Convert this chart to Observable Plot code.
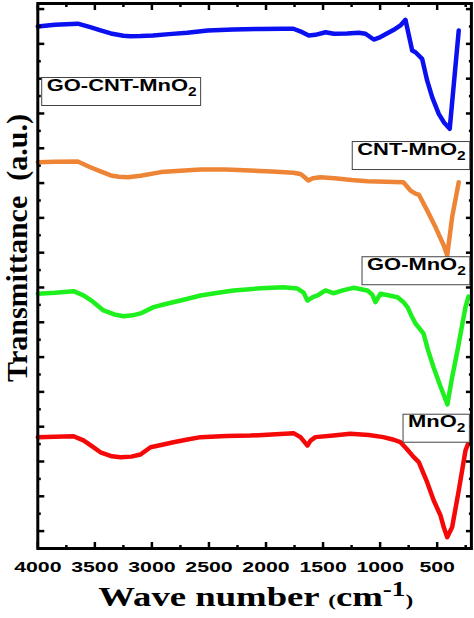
<!DOCTYPE html>
<html>
<head>
<meta charset="utf-8">
<script src="https://cdn.jsdelivr.net/npm/d3@7"></script>
<script src="https://cdn.jsdelivr.net/npm/@observablehq/plot@0.6"></script>
<style>
  html, body { margin: 0; padding: 0; background: #fff; overflow: hidden; }
  #xtitle { height: 36px; width: 436px; padding-left: 38px; padding-top: 2px; box-sizing: content-box;
    text-align: center; font-family: "Liberation Serif", serif; font-weight: bold; line-height: 27px; color: #000; }
  #xtitle .inner { display: inline-block; transform: scaleX(1.36); white-space: nowrap; }
</style>
</head>
<body>
<div id="chart"></div>
<div id="xtitle"><span class="inner"><span style="font-size:27px">Wave number </span><span style="font-size:17px">(</span><span style="font-size:27px">cm</span><span style="font-size:20px;position:relative;top:-10px">-1</span><span style="font-size:17px">)</span></span></div>
<script>
// ---- data (wavenumber cm^-1, offset transmittance a.u.) ----
const blueWN = [4000, 3850, 3650, 3540, 3450, 3360, 3250, 3190, 3100, 2990, 2850, 2690, 2510, 2290, 2050, 1850, 1760, 1683, 1625, 1567, 1479, 1406, 1289, 1187, 1128, 1056, 997, 880, 822, 778, 719, 690, 632, 588, 544, 486, 442, 390, 311];
const blueT  = [30.00, 30.10, 30.16, 29.96, 29.78, 29.60, 29.47, 29.44, 29.45, 29.48, 29.56, 29.64, 29.77, 29.83, 29.86, 29.87, 29.87, 29.67, 29.48, 29.52, 29.67, 29.58, 29.60, 29.64, 29.58, 29.25, 29.39, 29.81, 30.06, 30.38, 28.62, 28.52, 28.14, 26.90, 25.94, 24.98, 24.50, 24.12, 29.77];

const orangeWN = [4000, 3850, 3650, 3540, 3450, 3360, 3290, 3210, 3100, 2920, 2750, 2570, 2350, 2140, 1950, 1760, 1700, 1680, 1628, 1590, 1523, 1400, 1250, 1111, 950, 796, 734, 690, 661, 588, 515, 442, 412, 369, 311];
const orangeT  = [22.20, 22.22, 22.24, 21.91, 21.67, 21.44, 21.36, 21.34, 21.42, 21.63, 21.71, 21.78, 21.78, 21.72, 21.67, 21.59, 21.52, 21.44, 21.15, 21.28, 21.34, 21.28, 21.18, 21.11, 21.07, 21.05, 20.57, 20.39, 20.34, 19.43, 18.47, 17.41, 16.84, 19.04, 21.05];

const greenWN = [4000, 3850, 3687, 3600, 3520, 3424, 3330, 3248, 3170, 3100, 2986, 2880, 2749, 2574, 2420, 2285, 2050, 1847, 1725, 1670, 1637, 1590, 1549, 1479, 1409, 1320, 1234, 1111, 1070, 1041, 997, 930, 848, 796, 760, 720, 690, 620, 580, 532, 470, 410, 370, 322, 252, 226];
const greenT  = [14.64, 14.70, 14.79, 14.55, 14.20, 13.68, 13.45, 13.35, 13.40, 13.51, 13.87, 14.05, 14.25, 14.54, 14.70, 14.83, 14.95, 15.02, 14.94, 14.70, 14.25, 14.45, 14.54, 14.83, 14.67, 14.85, 14.98, 14.83, 14.60, 14.16, 14.64, 14.55, 14.44, 14.16, 13.87, 13.30, 12.93, 12.36, 11.40, 10.42, 9.30, 8.28, 9.80, 11.38, 13.87, 14.48];

const redWN = [4000, 3850, 3687, 3600, 3520, 3451, 3350, 3275, 3180, 3100, 3012, 2900, 2811, 2700, 2574, 2350, 2136, 1950, 1759, 1698, 1660, 1637, 1610, 1567, 1409, 1261, 1100, 972, 880, 822, 770, 705, 661, 588, 530, 471, 442, 412, 369, 311, 252, 223];
const redT  = [6.40, 6.42, 6.45, 6.21, 5.85, 5.53, 5.30, 5.25, 5.28, 5.40, 5.82, 5.98, 6.11, 6.25, 6.40, 6.46, 6.49, 6.55, 6.63, 6.40, 6.10, 5.92, 6.20, 6.40, 6.49, 6.59, 6.52, 6.40, 6.25, 6.11, 5.75, 5.25, 4.96, 3.81, 2.76, 1.90, 1.22, 0.65, 1.22, 3.33, 5.63, 6.11];

const labelNames = ["GO-CNT-MnO\u2082", "CNT-MnO\u2082", "GO-MnO\u2082", "MnO\u2082"];
const labelWN = [3265, 725, 682, 504];
const labelT  = [26.32, 22.64, 16.02, 6.97];

const xMajor = [4000, 3500, 3000, 2500, 2000, 1500, 1000, 500];
const xMinor = [3750, 3250, 2750, 2250, 1750, 1250, 750, 250];
const yLong = d3.range(1, 32, 2);
const yShort = d3.range(2, 31, 2);
const yTitle = ["Transmittance  (a.u.)"];

const series = [
  {wn: blueWN, t: blueT, color: "#0a10f0"},
  {wn: orangeWN, t: orangeT, color: "#ee8536"},
  {wn: greenWN, t: greenT, color: "#1ef01e"},
  {wn: redWN, t: redT, color: "#f40808"}
];

const lineMarks = series.map(s => Plot.line(s.t, {
  x: (d, i) => s.wn[i], y: d => d, stroke: s.color, strokeWidth: 4.5,
  strokeLinejoin: "round", strokeLinecap: "round"
}));

const tickStyle = {fill: "none", stroke: "black", strokeWidth: 2.5, label: null, tickFormat: () => ""};

const chart = Plot.plot({
  width: 474, height: 582,
  marginLeft: 37.3, marginRight: 3.1, marginTop: 3, marginBottom: 34,
  style: {fontFamily: "Liberation Sans", fontWeight: "bold", fontSize: "15px", background: "white"},
  x: {domain: [4000, 200], axis: null},
  y: {domain: [0, 31.32], axis: null},
  marks: [
    ...lineMarks,
    Plot.axisX({anchor: "bottom", ticks: xMajor, tickSize: -6, ...tickStyle}),
    Plot.axisX({anchor: "bottom", ticks: xMinor, tickSize: -3, ...tickStyle}),
    Plot.axisX({anchor: "top", ticks: xMajor, tickSize: -6, ...tickStyle}),
    Plot.axisX({anchor: "top", ticks: xMinor, tickSize: -3, ...tickStyle}),
    Plot.axisY({anchor: "left", ticks: yLong, tickSize: -7, ...tickStyle}),
    Plot.axisY({anchor: "left", ticks: yShort, tickSize: -3.5, ...tickStyle}),
    Plot.axisY({anchor: "right", ticks: yLong, tickSize: -6, ...tickStyle}),
    Plot.axisY({anchor: "right", ticks: yShort, tickSize: -3, ...tickStyle}),
    Plot.axisX({anchor: "bottom", ticks: xMajor, tickSize: 0, tickPadding: 13, tickFormat: d => String(d),
      fontSize: 15, fontWeight: "bold", fontFamily: "Liberation Sans", fill: "black", label: null}),
    Plot.frame({stroke: "black", strokeWidth: 3}),
    Plot.text(yTitle, {frameAnchor: "left", text: d => d, rotate: -90, dx: -20, dy: -28,
      textAnchor: "middle", lineAnchor: "middle",
      fontSize: 30, fontWeight: "bold", fontFamily: "Liberation Serif", fill: "black"}),
    Plot.text(labelNames, {x: (d, i) => labelWN[i], y: (d, i) => labelT[i], text: d => d,
      textAnchor: "middle", fontSize: 17, fontWeight: "bold", fontFamily: "Liberation Sans", fill: "black"})
  ]
});

document.getElementById("chart").append(chart);

// ---- post-processing: horizontal stretch of sans text, subscripts, label boxes ----
const NS = "http://www.w3.org/2000/svg";
const xs = chart.scale("x"), ys = chart.scale("y");
const ctx = document.createElement("canvas").getContext("2d");
function measure(str, px) {
  ctx.font = `bold ${px}px "Liberation Sans"`;
  return ctx.measureText(str).width;
}
function stretch(t, s) {
  const x = +t.getAttribute("x") || 0, y = +t.getAttribute("y") || 0;
  const tr = t.getAttribute("transform") || "";
  t.setAttribute("transform", `${tr} translate(${x},${y}) scale(${s},1) translate(${-x},${-y})`);
}
chart.querySelectorAll("text").forEach(t => {
  const s = t.textContent;
  if (/^\d+$/.test(s)) stretch(t, 1.42);
});
const SX = 1.29;
chart.querySelectorAll("text").forEach(t => {
  const s = t.textContent;
  const i = labelNames.indexOf(s);
  if (i < 0) return;
  const main = s.replace("\u2082", "");
  t.textContent = main;
  const ts = document.createElementNS(NS, "tspan");
  ts.setAttribute("dy", "5");
  ts.setAttribute("font-size", "12");
  ts.textContent = "2";
  t.append(ts);
  const natural = measure(main, 17) + measure("2", 12);
  t.setAttribute("textLength", natural.toFixed(2));
  t.setAttribute("lengthAdjust", "spacingAndGlyphs");
  t.setAttribute("font-family", "Liberation Sans");
  const ax = xs.apply(labelWN[i]), ay = ys.apply(labelT[i]);
  t.removeAttribute("x");
  t.removeAttribute("y");
  t.setAttribute("transform", `translate(${ax},${ay}) scale(${SX},1)`);
  const w = natural * SX + 9, h = 28;
  const rect = document.createElementNS(NS, "rect");
  rect.setAttribute("x", ax - w / 2);
  rect.setAttribute("y", ay + 1.5 - h / 2);
  rect.setAttribute("width", w);
  rect.setAttribute("height", h);
  rect.setAttribute("fill", "white");
  rect.setAttribute("stroke", "#444");
  rect.setAttribute("stroke-width", "1");
  const g = t.parentNode;
  g.parentNode.insertBefore(rect, g);
});
</script>
</body>
</html>
